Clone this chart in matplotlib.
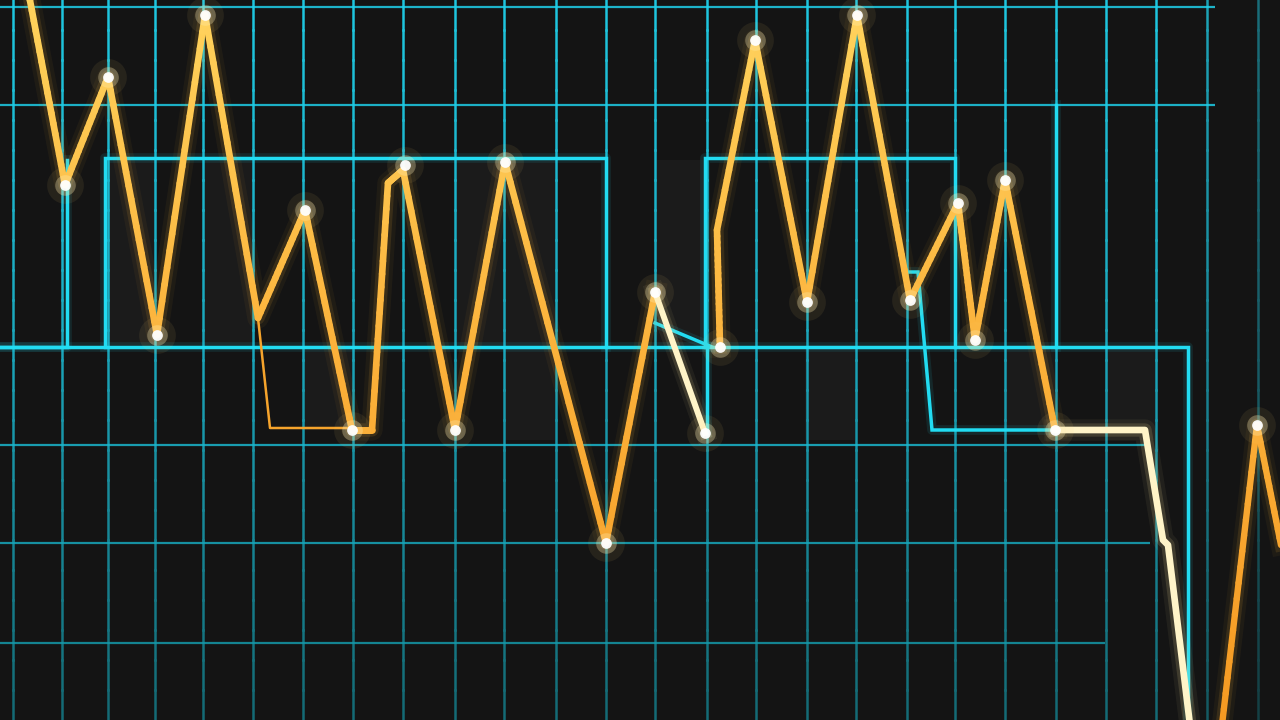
import matplotlib
matplotlib.use("Agg")
import matplotlib.pyplot as plt
from matplotlib.collections import LineCollection
from matplotlib.colors import LinearSegmentedColormap, to_rgb
import numpy as np

# grid positions (pixel-like units, y counted from the top)
grid_x = [13, 62, 108, 155, 203, 253, 303, 353, 403, 455, 504, 556, 606,
          655, 707, 756, 807, 856, 907, 955, 1005, 1056, 1106, 1156, 1207, 1258]
grid_y = [7, 105, 445, 543, 643]

# main orange zigzag, first part
line1_x = [28, 65, 108, 157, 205, 258, 305, 352, 372, 388, 403, 455, 505, 606, 655]
line1_y = [-10, 185, 77, 335, 15, 318, 210, 430, 430, 183, 170, 430, 162, 543, 292]
# pale segment after the dip
pale1_x = [655, 705]
pale1_y = [292, 433]
# second part
line2_x = [720, 717, 755, 807, 857, 910, 958, 975, 1005, 1055]
line2_y = [347, 230, 40, 302, 15, 300, 203, 340, 180, 430]
# pale tail
pale2_x = [1055, 1145, 1163, 1168, 1190]
pale2_y = [430, 430, 540, 545, 725]
# right orange fragment
line3_x = [1222, 1257, 1290]
line3_y = [725, 425, 590]
# thin orange side branch
thin_x = [258, 270, 352]
thin_y = [318, 428, 428]

# cyan step traces
steps = [
    ([0, 67, 67], [347, 347, 160]),
    ([105, 105, 606, 606], [347, 158, 158, 347]),
    ([705, 705, 955, 955], [347, 158, 158, 347]),
    ([1056, 1056], [105, 347]),
    ([0, 1188, 1188], [347, 347, 725]),
    ([655, 712], [323, 347]),
    ([707, 707], [347, 433]),
    ([908, 918, 932, 1055], [272, 272, 430, 430]),
]

# glowing vertices
glow_x = [65, 108, 157, 205, 305, 352, 405, 455, 505, 606, 655, 705, 720,
          755, 807, 857, 910, 958, 975, 1005, 1055, 1257]
glow_y = [185, 77, 335, 15, 210, 430, 165, 430, 162, 543, 292, 433, 347,
          40, 302, 15, 300, 203, 340, 180, 430, 425]

# faint lighter background columns (x0, x1, y0, y1)
shade = [(108, 155, 160, 345), (205, 255, 160, 345), (305, 355, 345, 430),
         (455, 555, 160, 345), (505, 555, 345, 440), (805, 855, 345, 440),
         (1105, 1155, 345, 440), (655, 705, 160, 345), (1005, 1055, 345, 430)]

bg = "#141414"
cyan = "#22dcf2"
pale = "#fff4c8"
warm = LinearSegmentedColormap.from_list("warm", ["#ffd35c", "#fbb13a", "#f59a22"])
cool = LinearSegmentedColormap.from_list("cool", ["#1fd0ea", "#1cc2db", "#138e9c"])
bg_rgb = np.array(to_rgb(bg))

fig = plt.figure(figsize=(12.8, 7.2), dpi=100, facecolor=bg)
ax = fig.add_axes([0, 0, 1, 1])
ax.set_facecolor(bg)
ax.set_xlim(0, 1280)
ax.set_ylim(720, 0)
ax.axis("off")

for x0, x1, y0, y1 in shade:
    ax.fill_between([x0, x1], y0, y1, color="white", alpha=0.03, lw=0, zorder=0)

# grid: vertical lines fade smoothly from bright top to dim bottom (opaque blend)
ys = np.linspace(0, 720, 25)
for i, gx in enumerate(grid_x):
    fade = 0.5 if i >= 25 else (0.8 if i == 24 else 1.0)
    segs = [[(gx, ys[j]), (gx, ys[j + 1])] for j in range(len(ys) - 1)]
    mid = (ys[:-1] + ys[1:]) / 2
    base = cool(mid / 720.0)[:, :3]
    a = (fade * (0.95 - 0.25 * mid / 720.0))[:, None]
    cols = base * a + bg_rgb * (1 - a)
    ax.add_collection(LineCollection(segs, colors=cols, linewidths=1.8,
                                     zorder=1, capstyle="projecting"))
for gy in grid_y:
    right = 1215 if gy < 200 else (1150 if gy < 600 else 1105)
    ax.hlines(gy, 0, right, color=cool(gy / 720.0), lw=1.6, alpha=0.85, zorder=1)

# cyan steps with glow
for sx, sy in steps:
    ax.plot(sx, sy, color=cyan, lw=7, alpha=0.10, zorder=2, solid_joinstyle="round")
    ax.plot(sx, sy, color=cyan, lw=2.5, zorder=2, solid_joinstyle="miter")


def warm_line(xs, ys, width):
    # split each segment into short opaque pieces coloured by height
    segs, vals = [], []
    for k in range(len(xs) - 1):
        px = np.linspace(xs[k], xs[k + 1], 20)
        py = np.linspace(ys[k], ys[k + 1], 20)
        for j in range(19):
            segs.append([(px[j], py[j]), (px[j + 1], py[j + 1])])
            vals.append((py[j] + py[j + 1]) / 2)
    vals = np.clip(np.array(vals) / 720.0, 0, 1)
    for w, a in [(width * 3.2, 0.05), (width * 2.0, 0.12)]:
        ax.plot(xs, ys, color="#fbb13a", lw=w, alpha=a, zorder=3, solid_joinstyle="round")
    lc = LineCollection(segs, colors=warm(vals), linewidths=width, zorder=4, capstyle="round")
    ax.add_collection(lc)


def pale_line(xs, ys, width):
    for w, a in [(width * 3.2, 0.06), (width * 2.0, 0.14)]:
        ax.plot(xs, ys, color="#ffe9a0", lw=w, alpha=a, zorder=3, solid_joinstyle="round")
    ax.plot(xs, ys, color=pale, lw=width, zorder=4, solid_joinstyle="round")


ax.plot(thin_x, thin_y, color="#f6a42c", lw=1.8, zorder=3)
warm_line(line1_x, line1_y, 4.8)
warm_line(line2_x, line2_y, 4.8)
warm_line(line3_x, line3_y, 4.6)
pale_line(pale1_x, pale1_y, 4.3)
pale_line(pale2_x, pale2_y, 4.8)

# glowing points
ax.scatter(glow_x, glow_y, s=700, color="#ffd77a", alpha=0.08, lw=0, zorder=5)
ax.scatter(glow_x, glow_y, s=220, color="#fff0b8", alpha=0.30, lw=0, zorder=5)
ax.scatter(glow_x, glow_y, s=60, color="white", alpha=0.95, lw=0, zorder=6)

fig.savefig("out.png", dpi=100, facecolor=bg)
